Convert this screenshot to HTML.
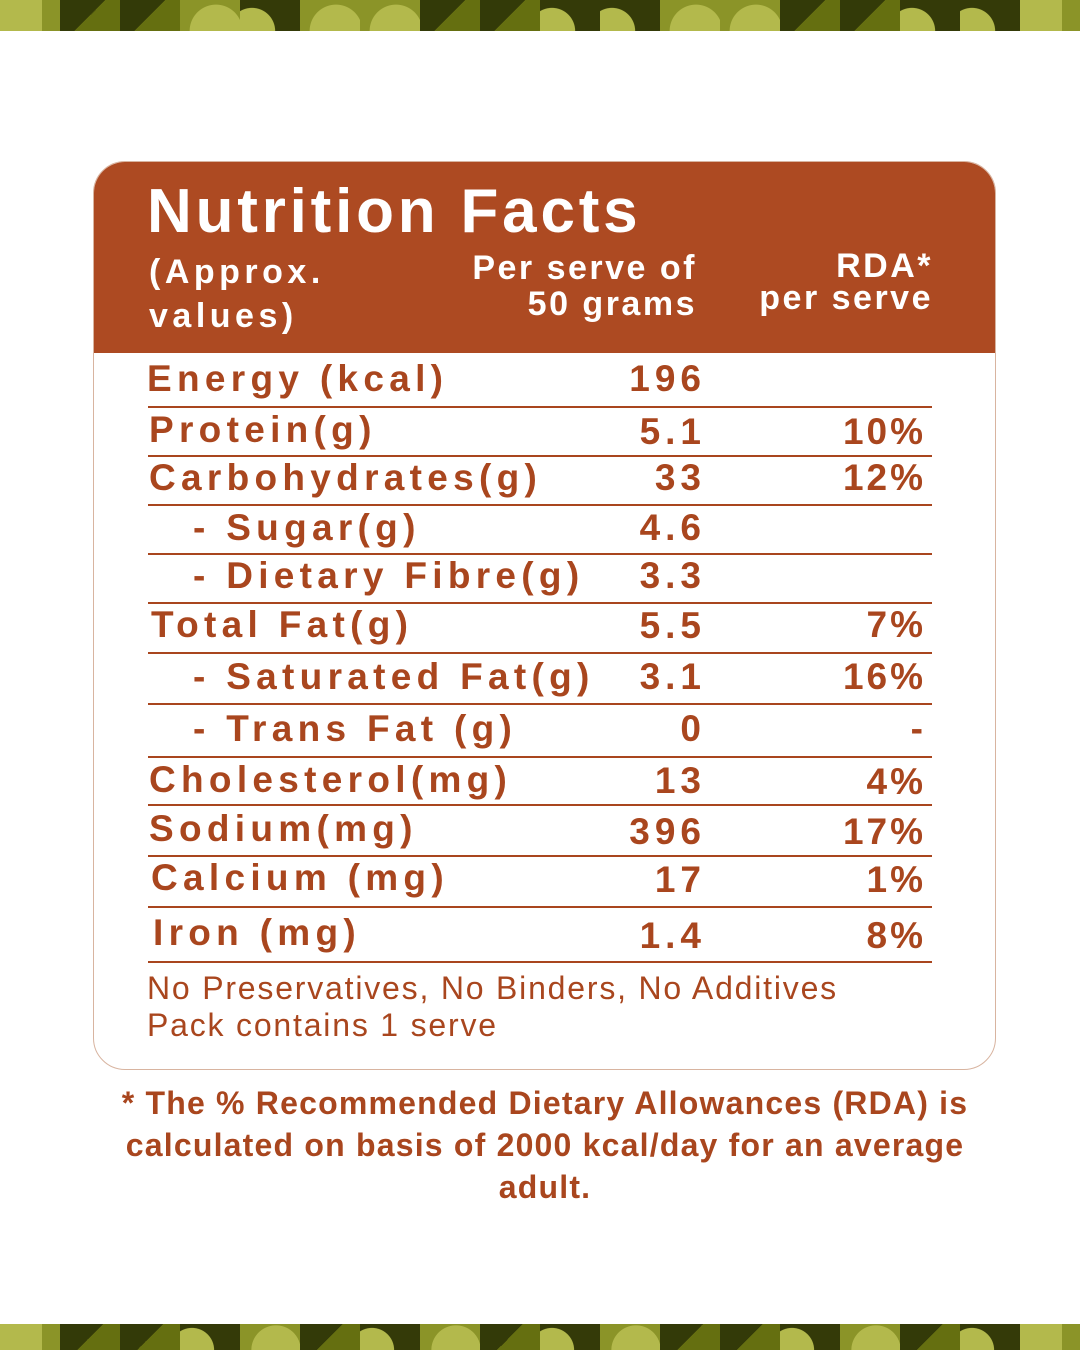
<!DOCTYPE html>
<html><head><style>
body{margin:0;width:1080px;height:1350px;background:#fff;position:relative;overflow:hidden;font-family:"Liberation Sans",sans-serif;color:#A9461E}
.strip{position:absolute;left:0;width:1080px;height:31px;display:flex}
.strip div{width:60px;height:100%;flex:none}
.a{background:linear-gradient(90deg,#b3b94c 0 70%,#8b9428 70%)}
.b{background:linear-gradient(135deg,#333a08 50%,#656f10 50%)}
.c{background:radial-gradient(circle at 20% 100%,#b3b94c 40%,#343a08 41%)}
.d{background:radial-gradient(circle at 60% 100%,#b3b94c 55%,#8b9428 56%)}
.card{position:absolute;left:93px;top:161px;width:901px;height:907px;border:1.5px solid #d8b4a0;border-radius:32px;overflow:hidden}
.hdr{position:absolute;left:0;top:0;width:100%;height:191px;background:#AD4A22;color:#fff;font-weight:bold}
.t{position:absolute;font-weight:bold;white-space:nowrap}
.row{position:absolute;left:148px;width:784px;height:2px;background:#A9461E}
.l{position:absolute;font-weight:bold;font-size:37px;letter-spacing:5.3px;white-space:nowrap}
.v{position:absolute;font-weight:bold;font-size:37px;letter-spacing:5px;right:374px;text-align:right}
.r{position:absolute;font-weight:bold;font-size:37px;letter-spacing:3px;right:154px;text-align:right}
</style></head><body>
<div class="strip" style="top:0">
<div class="a"></div><div class="b"></div><div class="b"></div><div class="d"></div><div class="c"></div><div class="d"></div><div class="d"></div><div class="b"></div><div class="b"></div><div class="c"></div><div class="c"></div><div class="d"></div><div class="d"></div><div class="b"></div><div class="b"></div><div class="c"></div><div class="c"></div><div class="a"></div>
</div>
<div class="strip" style="top:1324px;height:26px">
<div class="a"></div><div class="b"></div><div class="b"></div><div class="c"></div><div class="d"></div><div class="b"></div><div class="c"></div><div class="d"></div><div class="b"></div><div class="c"></div><div class="d"></div><div class="b"></div><div class="b"></div><div class="c"></div><div class="d"></div><div class="b"></div><div class="c"></div><div class="a"></div>
</div>
<div class="card"><div class="hdr"></div></div>
<div class="t" style="left:147px;top:176px;font-size:62px;color:#fff;letter-spacing:3.8px">Nutrition Facts</div>
<div class="t" style="left:149px;top:250px;font-size:34px;color:#fff;line-height:44px;letter-spacing:4.5px">(Approx.<br>values)</div>
<div class="t" style="right:383px;top:250px;font-size:34px;color:#fff;line-height:36px;text-align:right;letter-spacing:2.5px">Per serve of<br>50 grams</div>
<div class="t" style="right:147px;top:250px;font-size:34px;color:#fff;line-height:32px;text-align:right;letter-spacing:2.5px">RDA*<br>per serve</div>

<div class="l" style="left:147px;top:358px">Energy (kcal)</div><div class="v" style="top:358px">196</div>
<div class="row" style="top:406px"></div>
<div class="l" style="left:149px;top:409px">Protein(g)</div><div class="v" style="top:411px">5.1</div><div class="r" style="top:411px">10%</div>
<div class="row" style="top:455px"></div>
<div class="l" style="left:149px;top:457px">Carbohydrates(g)</div><div class="v" style="top:457px">33</div><div class="r" style="top:457px">12%</div>
<div class="row" style="top:504px"></div>
<div class="l" style="left:193px;top:507px">- Sugar(g)</div><div class="v" style="top:507px">4.6</div>
<div class="row" style="top:553px"></div>
<div class="l" style="left:193px;top:555px">- Dietary Fibre(g)</div><div class="v" style="top:555px">3.3</div>
<div class="row" style="top:602px"></div>
<div class="l" style="left:151px;top:604px">Total Fat(g)</div><div class="v" style="top:605px">5.5</div><div class="r" style="top:604px">7%</div>
<div class="row" style="top:652px"></div>
<div class="l" style="left:193px;top:656px">- Saturated Fat(g)</div><div class="v" style="top:656px">3.1</div><div class="r" style="top:656px">16%</div>
<div class="row" style="top:703px"></div>
<div class="l" style="left:193px;top:708px">- Trans Fat (g)</div><div class="v" style="top:708px">0</div><div class="r" style="top:708px">-</div>
<div class="row" style="top:756px"></div>
<div class="l" style="left:149px;top:759px">Cholesterol(mg)</div><div class="v" style="top:760px">13</div><div class="r" style="top:761px">4%</div>
<div class="row" style="top:804px"></div>
<div class="l" style="left:149px;top:808px">Sodium(mg)</div><div class="v" style="top:811px">396</div><div class="r" style="top:811px">17%</div>
<div class="row" style="top:855px"></div>
<div class="l" style="left:151px;top:857px">Calcium (mg)</div><div class="v" style="top:859px">17</div><div class="r" style="top:859px">1%</div>
<div class="row" style="top:906px"></div>
<div class="l" style="left:153px;top:912px">Iron (mg)</div><div class="v" style="top:915px">1.4</div><div class="r" style="top:915px">8%</div>
<div class="row" style="top:961px"></div>
<div class="t" style="left:147px;top:970px;font-size:32px;font-weight:normal;line-height:37px;letter-spacing:1.8px">No Preservatives, No Binders, No Additives<br>Pack contains 1 serve</div>
<div class="t" style="left:0;width:1090px;top:1082px;font-size:32px;line-height:42px;text-align:center;white-space:normal;letter-spacing:1.2px">* The % Recommended Dietary Allowances (RDA) is<br>calculated on basis of 2000 kcal/day for an average<br>adult.</div>
</body></html>
